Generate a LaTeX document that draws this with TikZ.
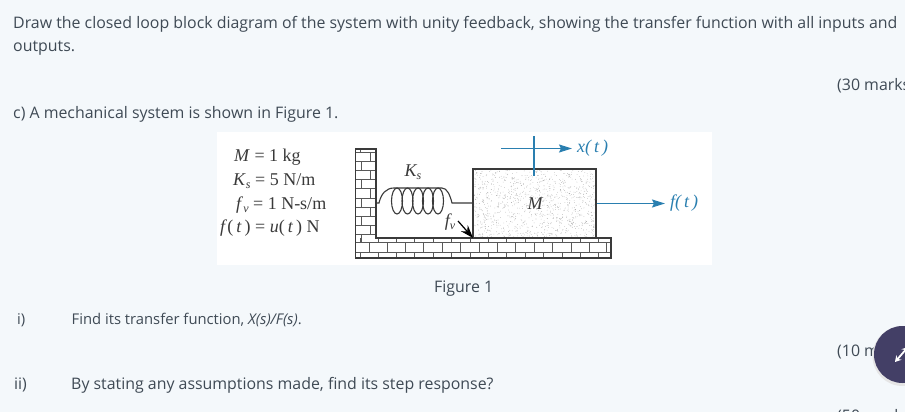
\documentclass[tikz,border=0pt]{standalone}
\usepackage{fontspec}
\setmainfont{Open Sans}
\newfontfamily\figfont{Liberation Serif}
\usetikzlibrary{arrows.meta}
\definecolor{pagebg}{HTML}{F4F8FB}
\definecolor{bodytext}{HTML}{3F4A55}
\definecolor{figblue}{HTML}{2A7FB0}
\definecolor{figdark}{HTML}{3A3A3A}
\definecolor{badge}{HTML}{433F66}
\newcommand{\subs}[1]{\raisebox{-3pt}{\fontsize{12}{12}\selectfont\textit{#1}}}
\tikzset{
  x=1pt,y=-1pt,
  bodylabel/.style={anchor=base west,inner sep=0pt,text=bodytext,font=\fontsize{15.9}{18}\selectfont},
  figlabel/.style={inner sep=0pt,text=figdark,anchor=base west,font=\figfont\fontsize{18}{20}\selectfont},
  figital/.style={inner sep=0pt,text=figdark,font=\figfont\itshape\fontsize{18}{20}\selectfont},
  bluelabel/.style={inner sep=0pt,anchor=west,text=figblue,font=\figfont\itshape\fontsize{18}{20}\selectfont},
  outline/.style={draw=figdark,line width=1.2pt},
  brick/.style={draw=figdark!85,line width=.7pt},
  blueline/.style={draw=figblue,line width=1.3pt},
  bluearrow/.style={blueline,-{Stealth[length=13pt,width=8pt,inset=2pt]},shorten >=5pt},
}
\begin{document}
\begin{tikzpicture}
\useasboundingbox (0,0) rectangle (905,412);
\clip (0,0) rectangle (905,412);
\fill[pagebg] (0,0) rectangle (905,412);
\fill[white] (217,132) rectangle (712,265);

% body text
\node[bodylabel] (q1) at (13,28.5) {Draw the closed loop block diagram of the system with unity feedback, showing the transfer function with all inputs and};
\node[bodylabel] (q2) at (13,52) {outputs.};
\node[bodylabel] (m30) at (837,90) {(30 marks};
\node[bodylabel] (c) at (13,118) {c) A mechanical system is shown in Figure 1.};
\node[bodylabel] (figcap) at (434,292) {Figure 1};
\node[bodylabel,font=\fontsize{14.8}{18}\selectfont] (i) at (17,324) {i)};
\node[bodylabel,font=\fontsize{14.8}{18}\selectfont] (ifind) at (71.5,324) {Find its transfer function, {\itshape X(s)/F(s)}.};
\node[bodylabel] (m10) at (837,356) {(10 m};
\node[bodylabel] (ii) at (14,389) {ii)};
\node[bodylabel] (iistep) at (71,389) {By stating any assumptions made, find its step response?};
\node[bodylabel] (m50) at (837,421) {(50 marks};

% parameters
\node[figlabel] (pm) at (234,161.5) {\textit{M} = 1 kg};
\node[figlabel] (pk) at (233,185.5) {\textit{K}\subs{s} = 5 N/m};
\node[figlabel] (pf) at (236,209.5) {\textit{f}\subs{v} = 1 N-s/m};
\node[figlabel] (pu) at (220,232.5) {\textit{f}(\,\textit{t}\,) = \textit{u}(\,\textit{t}\,) N};

% mass stipple
\pgfmathsetseed{42}
\foreach \i in {1,...,1100}{
  \pgfmathsetmacro{\px}{474+rnd*121}
  \pgfmathsetmacro{\py}{170+rnd*67}
  \fill[black!45] (\px,\py) circle (.3pt);
}
\node[outline,minimum width=123pt,minimum height=69pt,inner sep=0pt] (mass) at (534.5,203.5) {};
\node[figital] (mlabel) at (535,204) {M};

% wall bricks
\foreach \y in {152,161,170,179,188,198,207,216,225,234}
  \draw[brick] (356,\y) -- (376,\y);
\foreach \y/\yb/\xa in {149/152/360,152/161/370,161/170/361,170/179/370,179/188/361,188/198/370,198/207/361,207/216/370,216/225/361,225/234/370,234/242/361}
  \draw[brick] (\xa,\y) -- (\xa,\yb);

% floor bricks
\draw[brick] (356,242.5) -- (611,242.5) (356,252.5) -- (611,252.5);
\foreach \x in {360,378,396.4,414.8,433.2,451.6,470,488.4,506.8,525.2,543.6,562,580.4,598.8}
  \draw[brick] (\x,238) -- (\x,242.5) (\x,252.5) -- (\x,258);
\foreach \x in {369,387,405.4,423.8,442.2,460.6,479,497.4,515.8,534.2,552.6,571,589.4,606}
  \draw[brick] (\x,242.5) -- (\x,252.5);
\draw[outline] (376,149) -- (355.5,149) -- (355.5,258) -- (611,258) -- (611,238) -- (376,238) -- cycle;

% spring
\coordinate (springA) at (376,203);
\draw[draw=figdark,line width=1.1pt] (springA) -- (379,203)
  .. controls (381,194) and (386,188) .. (394,188)
  -- (442,188)
  .. controls (447,188) and (450,195) .. (452,203)
  -- (mass.west |- springA);
\foreach \cx in {397,407.5,418,428,438}
  \draw[draw=figdark,line width=1.1pt] (\cx,201) ellipse (5.5pt and 13pt);
\node[figital] (ks) at (413,172) {K\subs{s}};

% damper label and arrow
\node[figital] (fv) at (450,222) {f\subs{v}};
\coordinate (fvStart) at (458,221);
\coordinate (fvEnd) at (473,238);
\draw[draw=black,line width=1.2pt,-{Stealth[length=13pt,width=9pt]}] (fvStart) -- (fvEnd);

% x(t)
\coordinate (xL) at (501,148.5);
\node[bluelabel] (xt) at (577,148) {x(\,t\,)};
\draw[bluearrow] (xL) -- (xt.west |- xL);
\coordinate (xTop) at (534,136);
\coordinate (xBot) at (534,176);
\draw[blueline] (xTop) -- (xBot);

% f(t)
\node[bluelabel] (ft) at (670,203.5) {f(\,t\,)};
\draw[bluearrow] (mass.east) -- (ft.west);

% round badge
\fill[black!10] (902.5,356) circle (30pt);
\node[circle,fill=badge,minimum size=57pt,inner sep=0pt] (badgeNode) at (902.5,354.5) {};
\coordinate (arA) at (895,362);
\coordinate (arB) at (908,347);
\draw[white,line width=1.8pt,{Stealth[length=6pt,width=7pt]}-{Stealth[length=6pt,width=7pt]}] (arA) -- (arB);
\end{tikzpicture}
\end{document}
